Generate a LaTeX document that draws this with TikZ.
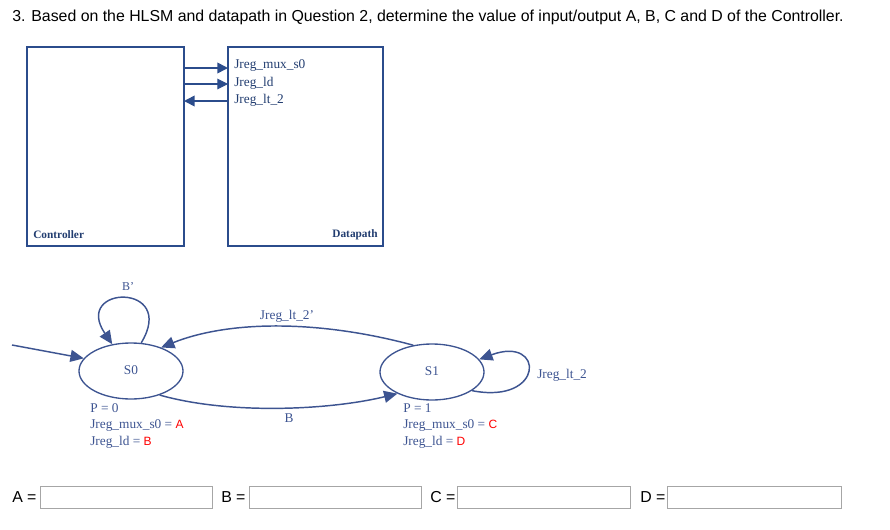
\documentclass[tikz,border=0pt]{standalone}
\usepackage{fontspec}
\setmainfont{Liberation Serif}
\newfontfamily\arialf{Liberation Sans}
\usetikzlibrary{arrows.meta,shapes.geometric}
\definecolor{dblue}{HTML}{2B4C8C}
\definecolor{sblue}{HTML}{3D5491}
\tikzset{
 blk/.style={draw=dblue,line width=1.3pt},
 sig/.style={draw=dblue,line width=1.2pt,-{Triangle[length=8pt,width=8pt]}},
 st/.style={draw=sblue,line width=1pt,ellipse,minimum width=104*0.75pt,minimum height=56*0.75pt,inner sep=0pt},
 tr/.style={draw=sblue,line width=1.1pt,-{Triangle[length=10pt,width=9pt]}},
 lbl/.style={text=sblue,font=\fontsize{10}{12}\selectfont,inner sep=0pt,anchor=west},
 ansbox/.style={draw=gray!70,line width=0.6pt},
 qt/.style={font=\arialf\fontsize{11.9}{14}\selectfont,inner sep=0pt,anchor=west}
}
\begin{document}
\begin{tikzpicture}[x=0.75pt,y=-0.75pt]
\useasboundingbox (0,0) rectangle (890,529);
\node[qt] (title) at (12,17) {3. Based on the HLSM and datapath in Question 2, determine the value of input/output A, B, C and D of the Controller.};
\draw[blk] (27,47) rectangle (184,246);
\draw[blk] (228,47) rectangle (383,246);
\coordinate (c1) at (184,68); \coordinate (d1) at (228,68);
\coordinate (c2) at (184,84); \coordinate (d2) at (228,84);
\coordinate (c3) at (184,101); \coordinate (d3) at (228,101);
\draw[sig] (c1) -- (d1);
\draw[sig,line width=0.8pt] (c2) -- (d2);
\draw[sig] (d3) -- (c3);
\node[lbl,text=dblue!80!black] (l1) at (234,66) {Jreg\_mux\_s0};
\node[lbl,text=dblue!80!black] (l2) at (234,83) {Jreg\_ld};
\node[lbl,text=dblue!80!black] (l3) at (234,100) {Jreg\_lt\_2};
\node[lbl,text=dblue!80!black,font=\bfseries\fontsize{8.5}{10}\selectfont] (cl) at (33,235) {Controller};
\node[lbl,text=dblue!80!black,font=\bfseries\fontsize{8.5}{10}\selectfont,anchor=east] (dl) at (378,235) {Datapath};
% FSM
\node[st] (s0) at (131,371) {};
\node[lbl,anchor=center] (s0t) at (131,370) {S0};
\node[st] (s1) at (432,372) {};
\node[lbl,anchor=center] (s1t) at (432,371) {S1};
\coordinate (init) at (12,345);
\draw[tr] (init) -- (s0.165);
\draw[tr] (s0.70) .. controls (178,282) and (72,285) .. (s0.125);
\node[lbl,anchor=center,font=\fontsize{9}{10}\selectfont] (bp) at (128,287) {B'};
\draw[tr] (s1.125) .. controls (320,320) and (230,320) .. (s0.38);
\node[lbl,anchor=center] (lt2p) at (287,316) {Jreg\_lt\_2'};
\draw[tr] (s0.-40) .. controls (230,415) and (330,410) .. (s1.-148);
\node[lbl,anchor=center] (bl) at (289,418) {B};
\draw[tr] (s1.-25) .. controls (545,405) and (545,335) .. (s1.15);
\node[lbl] (lt2) at (537,375) {Jreg\_lt\_2};
\node[lbl] (p0) at (90,408) {P = 0};
\node[lbl] (m0) at (90,425) {Jreg\_mux\_s0 = \textcolor{red}{\arialf\small A}};
\node[lbl] (d0) at (90,442) {Jreg\_ld = \textcolor{red}{\arialf\small B}};
\node[lbl] (p1) at (403,408) {P = 1};
\node[lbl] (m1) at (403,425) {Jreg\_mux\_s0 = \textcolor{red}{\arialf\small C}};
\node[lbl] (d1l) at (403,442) {Jreg\_ld = \textcolor{red}{\arialf\small D}};
% answers
\node[qt] (qa) at (12,497) {A =};
\draw[ansbox] (40,486) rectangle (212,508);
\node[qt] (qb) at (221,497) {B =};
\draw[ansbox] (249,486) rectangle (421,508);
\node[qt] (qc) at (430,497) {C =};
\draw[ansbox] (457,486) rectangle (630,508);
\node[qt] (qd) at (640,497) {D =};
\draw[ansbox] (667,486) rectangle (841,508);
\end{tikzpicture}
\end{document}
